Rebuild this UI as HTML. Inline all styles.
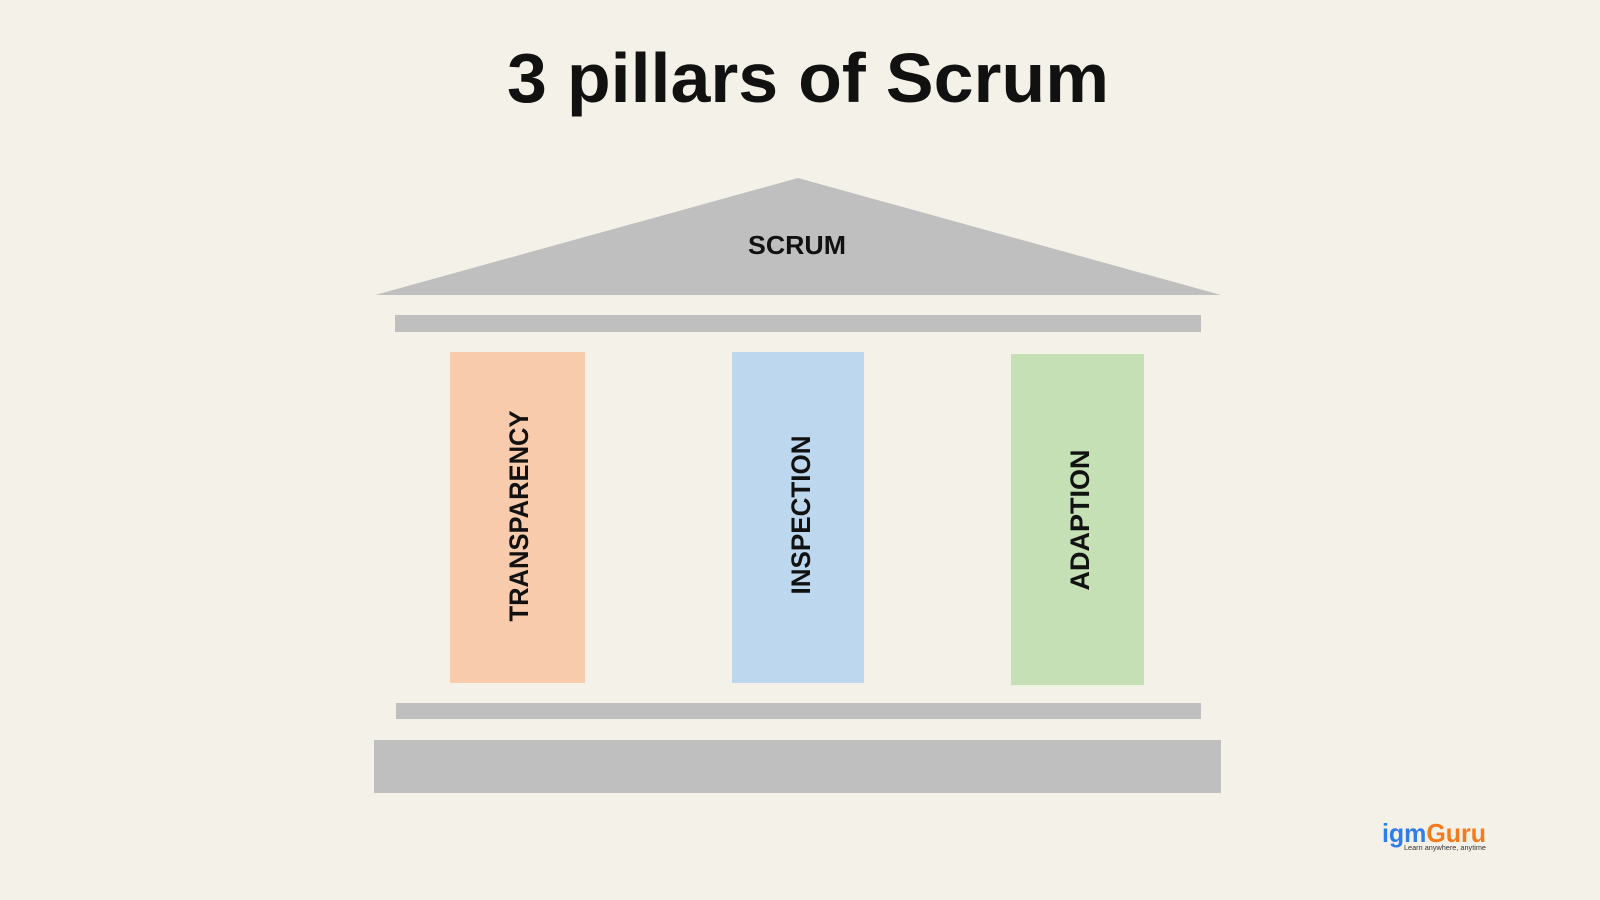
<!DOCTYPE html>
<html><head><meta charset="utf-8"><style>
html,body{margin:0;padding:0;background:#f4f2e8;}
svg{display:block}
</style></head><body>
<svg width="1600" height="900" viewBox="0 0 1600 900" xmlns="http://www.w3.org/2000/svg">
<rect width="1600" height="900" fill="#f4f2e8"/>
<text x="808" y="102" text-anchor="middle" font-family="Liberation Sans, sans-serif" font-weight="bold" font-size="70" fill="#111" textLength="602" lengthAdjust="spacingAndGlyphs">3 pillars of Scrum</text>
<polygon points="798,178 1221,295 375,295" fill="#bfbfbf"/>
<text x="797" y="254" text-anchor="middle" font-family="Liberation Sans, sans-serif" font-weight="bold" font-size="26" fill="#111" textLength="98" lengthAdjust="spacingAndGlyphs">SCRUM</text>
<rect x="395" y="315" width="806" height="17" fill="#bfbfbf"/>
<rect x="450" y="352" width="135" height="331" fill="#f7cbab"/>
<rect x="732" y="352" width="132" height="331" fill="#bdd7ee"/>
<rect x="1011" y="354" width="133" height="331" fill="#c5e0b4"/>
<g font-family="Liberation Sans, sans-serif" font-weight="bold" font-size="27" fill="#111" text-anchor="middle">
<text transform="translate(528,516) rotate(-90)" textLength="211" lengthAdjust="spacingAndGlyphs">TRANSPARENCY</text>
<text transform="translate(810,515) rotate(-90)" textLength="159" lengthAdjust="spacingAndGlyphs">INSPECTION</text>
<text transform="translate(1089,520) rotate(-90)" textLength="141" lengthAdjust="spacingAndGlyphs">ADAPTION</text>
</g>
<rect x="396" y="703" width="805" height="16" fill="#bfbfbf"/>
<rect x="374" y="740" width="847" height="53" fill="#bfbfbf"/>
<text x="1382" y="842" font-family="Liberation Sans, sans-serif" font-weight="bold" font-size="26" textLength="104" lengthAdjust="spacingAndGlyphs"><tspan fill="#2f7ee8">igm</tspan><tspan fill="#f37a1f">Guru</tspan></text>
<text x="1404" y="850" font-family="Liberation Sans, sans-serif" font-size="7" fill="#333" textLength="82" lengthAdjust="spacingAndGlyphs">Learn anywhere, anytime</text>
</svg>
</body></html>
